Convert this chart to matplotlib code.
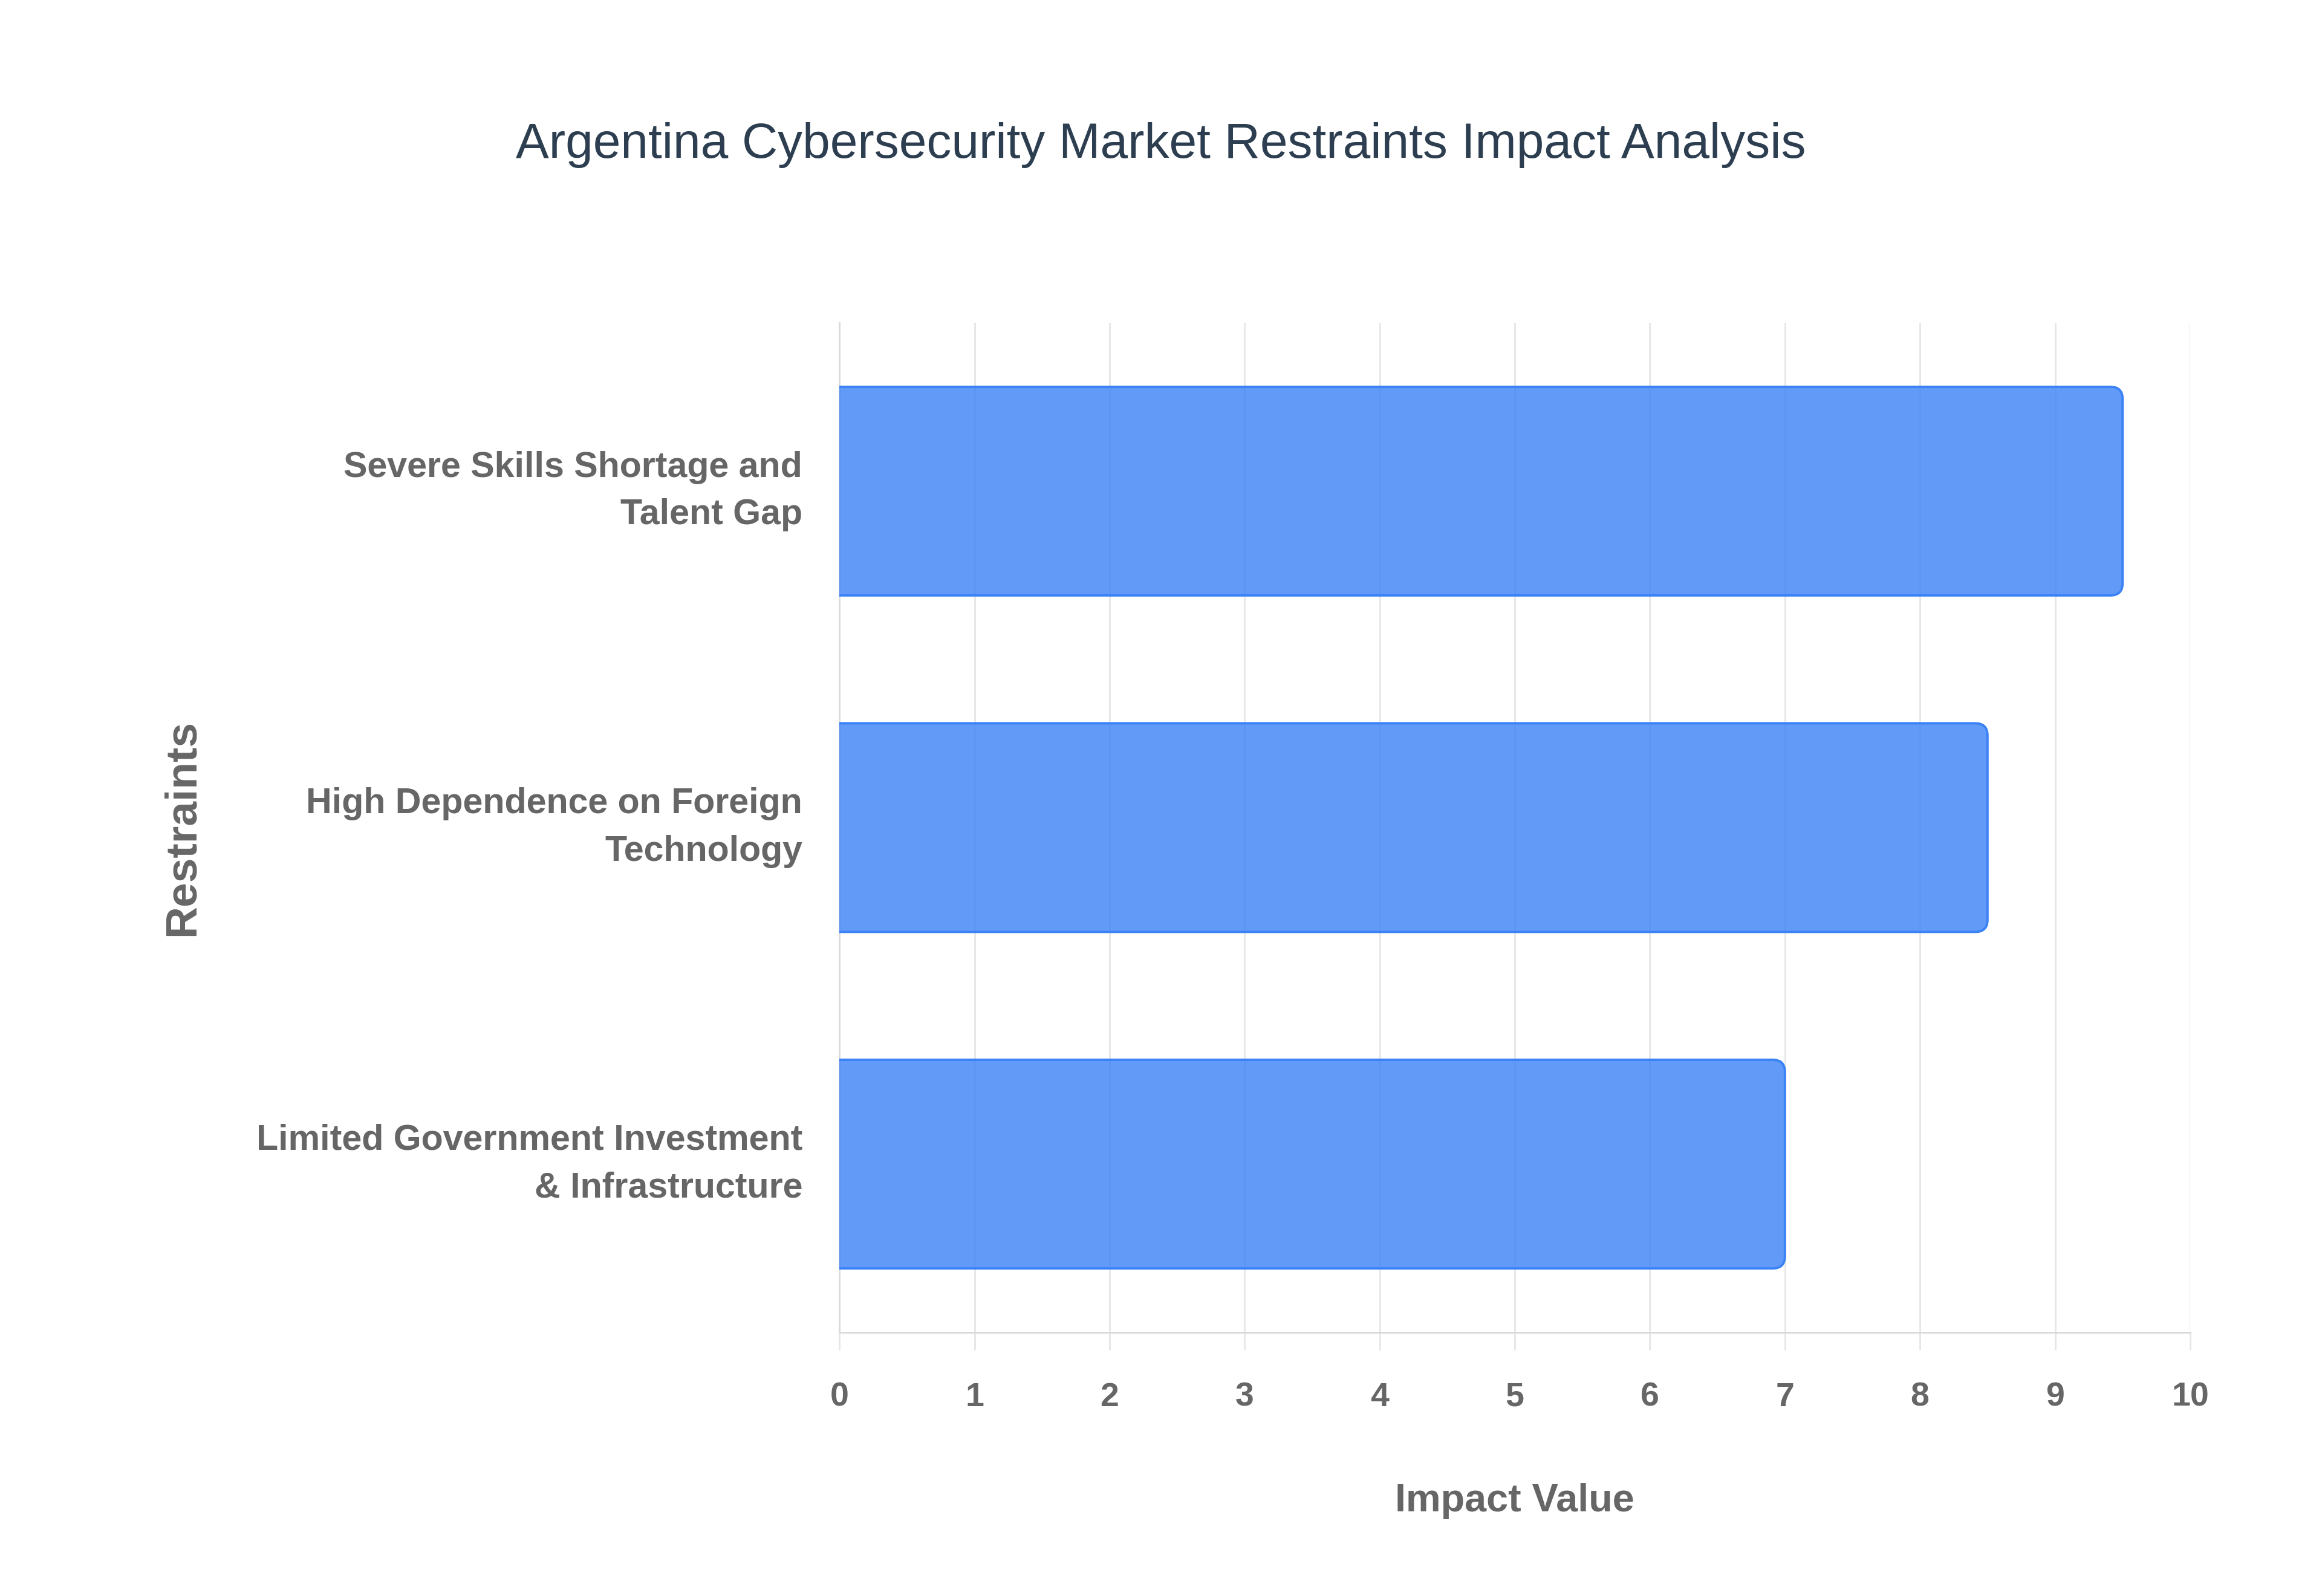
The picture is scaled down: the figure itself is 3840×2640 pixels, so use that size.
import matplotlib
matplotlib.use("Agg")
import matplotlib.pyplot as plt
from matplotlib.patches import FancyBboxPatch

# dados
restraints = [
    "Limited Government Investment\n& Infrastructure",
    "High Dependence on Foreign\nTechnology",
    "Severe Skills Shortage and\nTalent Gap",
]
impact = [7.0, 8.5, 9.5]
x_ticks = list(range(0, 11))

title = "Argentina Cybersecurity Market Restraints Impact Analysis"
label_font = ["Liberation Sans", "DejaVu Sans"]
gray = "#666666"
bar_edge = "#3B82F6"

fig = plt.figure(figsize=(19.2, 13.2), dpi=200)
ax = fig.add_axes([0.3615, 0.1652, 0.9432 - 0.3615, 0.7977 - 0.1652])

bars = ax.barh(restraints, impact, height=0.62, color="none", edgecolor="none")

# barras com cantos arredondados à direita
r = 0.09
aspect = (ax.get_position().width * 3840 / 10) / (ax.get_position().height * 2640 / 3)
for b in bars:
    x, y = b.get_x(), b.get_y()
    w, h = b.get_width(), b.get_height()
    p = FancyBboxPatch((x - 3 * r, y), w + 3 * r, h,
                       boxstyle=f"round,pad=0,rounding_size={r}",
                       mutation_aspect=aspect,
                       facecolor=(0.231, 0.510, 0.965, 0.8),
                       edgecolor=bar_edge, linewidth=1.4, zorder=3)
    ax.add_patch(p)
    b.remove()

ax.set_xlim(0, 10)
ax.set_ylim(-0.5, 2.5)
ax.set_xticks(x_ticks)
ax.grid(axis="x", color="#e6e6e6", linewidth=1.0, zorder=0)
ax.set_axisbelow(True)

for side in ["top", "right"]:
    ax.spines[side].set_visible(False)
for side in ["left", "bottom"]:
    ax.spines[side].set_color("#d9d9d9")
    ax.spines[side].set_linewidth(1.0)

ax.tick_params(axis="x", length=10.5, width=1.0, color="#e6e6e6", pad=19,
               labelsize=20, labelcolor=gray)
ax.tick_params(axis="y", length=0, pad=22, labelsize=21.3, labelcolor=gray)
for lab in ax.get_xticklabels() + ax.get_yticklabels():
    lab.set_fontweight("bold")
    lab.set_family(label_font)
for lab in ax.get_yticklabels():
    lab.set_linespacing(1.55)
    lab.set_va("center")

ax.set_xlabel("Impact Value", fontsize=23.3, fontweight="bold", color=gray,
              family=label_font)
ax.xaxis.set_label_coords(0.5, -0.167)
ax.xaxis.label.set_va("center")
ax.set_ylabel("Restraints", fontsize=26.4, fontweight="bold", color=gray,
              family=label_font)
ax.yaxis.set_label_coords(-0.4866, 0.5)
ax.yaxis.label.set_va("center")

fig.suptitle(title, x=0.5, y=0.909, va="center", fontsize=29.5,
             color="#2c3e50", family=["Liberation Sans", "DejaVu Sans"])

fig.savefig("out.png", dpi=200, facecolor="white")
